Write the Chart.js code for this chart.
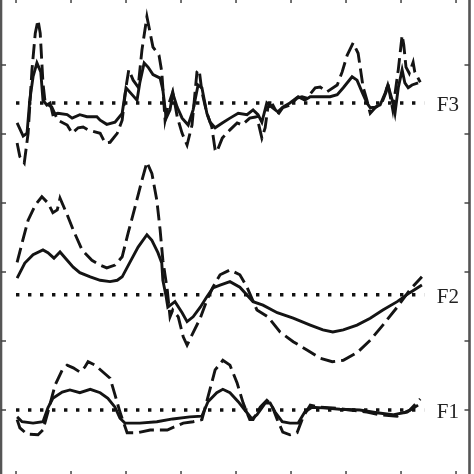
<!DOCTYPE html>
<html>
<head>
<meta charset="utf-8">
<script src="https://cdn.jsdelivr.net/npm/chart.js"></script>
<style>
  body { margin: 0; background: #fff; }
  #wrap { width: 474px; height: 474px; }
</style>
</head>
<body>
<div id="wrap"><canvas id="formantChart" width="474" height="474"></canvas></div>
<script>
// tick positions (unlabelled in the figure)
const xTicks = [0, 1, 2, 3, 4, 5, 6, 7, 8];
const yTicks = [0, 1, 2, 3, 4, 5];

// formant labels and the level of their dotted reference lines
const formantNames = ["F1", "F2", "F3"];
const baselines = [0, 1.67, 4.45];
const baselineEnd = 7.42;

// F3
const f3Solid = [
  [0.02, 4.16], [0.13, 3.97], [0.20, 4.01], [0.25, 4.49], [0.31, 4.83], [0.38, 5.03], [0.45, 4.90],
  [0.49, 4.49], [0.56, 4.42], [0.62, 4.45], [0.67, 4.28], [0.76, 4.30], [0.93, 4.28], [1.02, 4.23],
  [1.16, 4.28], [1.29, 4.25], [1.47, 4.25], [1.53, 4.20], [1.65, 4.14], [1.80, 4.17], [1.93, 4.30],
  [2.00, 4.67], [2.11, 4.57], [2.20, 4.49], [2.25, 4.74], [2.33, 5.03], [2.40, 4.97], [2.49, 4.86],
  [2.62, 4.81], [2.67, 4.64], [2.73, 4.23], [2.80, 4.35], [2.85, 4.59], [2.93, 4.39], [3.02, 4.23],
  [3.13, 4.13], [3.22, 4.35], [3.31, 4.71], [3.38, 4.67], [3.47, 4.30], [3.53, 4.17], [3.62, 4.09],
  [3.75, 4.16], [3.89, 4.23], [4.04, 4.30], [4.20, 4.28], [4.31, 4.35], [4.40, 4.28], [4.47, 4.17],
  [4.56, 4.45], [4.65, 4.39], [4.76, 4.32], [4.85, 4.39], [4.98, 4.45], [5.13, 4.54], [5.25, 4.49],
  [5.35, 4.54], [5.53, 4.54], [5.71, 4.54], [5.84, 4.57], [5.95, 4.67], [6.11, 4.83], [6.20, 4.78],
  [6.29, 4.61], [6.38, 4.45], [6.44, 4.38], [6.53, 4.39], [6.62, 4.42], [6.71, 4.59], [6.76, 4.71],
  [6.84, 4.49], [6.89, 4.30], [6.95, 4.67], [7.02, 4.93], [7.07, 4.74], [7.13, 4.67], [7.20, 4.71],
  [7.31, 4.74]
];
const f3Dashed = [
  [0.02, 3.87], [0.07, 3.67], [0.15, 3.58], [0.22, 4.01], [0.29, 4.93], [0.35, 5.46], [0.40, 5.65],
  [0.44, 5.46], [0.49, 4.74], [0.53, 4.45], [0.65, 4.39], [0.76, 4.20], [0.93, 4.13], [1.02, 4.01],
  [1.13, 4.09], [1.22, 4.10], [1.31, 4.06], [1.53, 4.01], [1.62, 3.87], [1.71, 3.88], [1.84, 4.01],
  [1.93, 4.20], [2.00, 4.68], [2.05, 4.93], [2.13, 4.78], [2.22, 4.68], [2.29, 5.22], [2.38, 5.70],
  [2.44, 5.46], [2.49, 5.26], [2.60, 5.14], [2.65, 4.90], [2.71, 4.20], [2.76, 4.39], [2.85, 4.61],
  [2.93, 4.25], [3.02, 4.01], [3.11, 3.84], [3.20, 4.13], [3.29, 4.90], [3.33, 4.93], [3.38, 4.61],
  [3.47, 4.30], [3.56, 4.10], [3.62, 3.77], [3.65, 3.74], [3.75, 3.94], [3.89, 4.06], [4.02, 4.16],
  [4.11, 4.13], [4.25, 4.23], [4.38, 4.25], [4.47, 3.94], [4.53, 4.09], [4.58, 4.39], [4.67, 4.42],
  [4.76, 4.28], [4.85, 4.38], [4.98, 4.42], [5.11, 4.52], [5.20, 4.54], [5.29, 4.52], [5.44, 4.67],
  [5.53, 4.68], [5.65, 4.61], [5.84, 4.71], [5.93, 4.90], [6.02, 5.14], [6.13, 5.32], [6.22, 5.17],
  [6.27, 4.90], [6.31, 4.68], [6.38, 4.49], [6.44, 4.30], [6.53, 4.38], [6.65, 4.45], [6.73, 4.61],
  [6.76, 4.74], [6.85, 4.35], [6.95, 4.93], [7.02, 5.43], [7.05, 5.29], [7.09, 4.97], [7.15, 4.88],
  [7.22, 5.04], [7.25, 4.90], [7.35, 4.75]
];

// F2
const f2Solid = [
  [0.02, 1.91], [0.16, 2.13], [0.31, 2.25], [0.49, 2.32], [0.58, 2.28], [0.69, 2.20], [0.80, 2.29],
  [0.93, 2.17], [1.04, 2.07], [1.16, 1.99], [1.35, 1.93], [1.53, 1.88], [1.71, 1.86], [1.84, 1.88],
  [1.93, 1.93], [2.07, 2.14], [2.22, 2.36], [2.38, 2.54], [2.47, 2.46], [2.58, 2.28], [2.65, 2.13],
  [2.67, 1.88], [2.73, 1.64], [2.76, 1.49], [2.89, 1.57], [3.02, 1.41], [3.11, 1.28], [3.22, 1.35],
  [3.35, 1.49], [3.47, 1.64], [3.58, 1.77], [3.71, 1.81], [3.89, 1.86], [4.07, 1.78], [4.31, 1.57],
  [4.49, 1.52], [4.75, 1.41], [5.04, 1.33], [5.35, 1.23], [5.58, 1.16], [5.76, 1.13], [5.95, 1.16],
  [6.20, 1.23], [6.44, 1.33], [6.67, 1.45], [6.93, 1.57], [7.16, 1.70], [7.38, 1.81]
];
const f2Dashed = [
  [0.02, 2.14], [0.11, 2.42], [0.22, 2.75], [0.35, 2.97], [0.47, 3.09], [0.58, 3.00], [0.67, 2.86],
  [0.75, 2.90], [0.80, 3.07], [0.93, 2.83], [1.04, 2.61], [1.20, 2.32], [1.38, 2.17], [1.53, 2.10],
  [1.65, 2.06], [1.80, 2.10], [1.93, 2.22], [2.04, 2.57], [2.16, 2.93], [2.29, 3.33], [2.38, 3.59],
  [2.47, 3.43], [2.56, 3.04], [2.62, 2.61], [2.67, 2.17], [2.75, 1.74], [2.80, 1.35], [2.85, 1.45],
  [2.95, 1.35], [3.04, 1.06], [3.11, 0.94], [3.22, 1.12], [3.35, 1.33], [3.47, 1.59], [3.58, 1.78],
  [3.71, 1.96], [3.89, 2.03], [4.07, 1.96], [4.20, 1.78], [4.38, 1.45], [4.58, 1.35], [4.80, 1.13],
  [5.04, 0.99], [5.29, 0.87], [5.53, 0.75], [5.75, 0.70], [5.95, 0.72], [6.20, 0.83], [6.44, 1.01],
  [6.67, 1.23], [6.93, 1.49], [7.16, 1.74], [7.38, 1.93]
];

// F1
const f1Solid = [
  [0.02, -0.10], [0.11, -0.17], [0.31, -0.19], [0.49, -0.17], [0.58, 0.03], [0.67, 0.17], [0.84, 0.26],
  [0.98, 0.29], [1.16, 0.25], [1.35, 0.30], [1.53, 0.25], [1.67, 0.17], [1.80, 0.04], [1.89, -0.12],
  [1.98, -0.19], [2.25, -0.19], [2.56, -0.17], [2.85, -0.13], [3.16, -0.10], [3.38, -0.09], [3.49, 0.12],
  [3.65, 0.25], [3.76, 0.30], [3.89, 0.25], [4.04, 0.12], [4.16, 0.00], [4.29, -0.13], [4.38, -0.07],
  [4.53, 0.10], [4.62, 0.10], [4.71, -0.03], [4.84, -0.17], [4.98, -0.19], [5.13, -0.19], [5.25, -0.03],
  [5.38, 0.04], [5.58, 0.03], [5.89, 0.01], [6.25, 0.00], [6.56, -0.04], [6.85, -0.07], [7.11, -0.03],
  [7.31, 0.07]
];
const f1Dashed = [
  [0.02, -0.14], [0.07, -0.26], [0.20, -0.35], [0.40, -0.36], [0.49, -0.29], [0.58, -0.03], [0.71, 0.36],
  [0.84, 0.58], [0.93, 0.65], [1.04, 0.61], [1.16, 0.55], [1.25, 0.62], [1.31, 0.70], [1.44, 0.65],
  [1.58, 0.55], [1.71, 0.46], [1.80, 0.22], [1.89, -0.03], [2.02, -0.33], [2.20, -0.33], [2.44, -0.29],
  [2.75, -0.29], [3.04, -0.19], [3.22, -0.17], [3.38, -0.14], [3.49, 0.19], [3.62, 0.58], [3.76, 0.72],
  [3.89, 0.65], [4.02, 0.39], [4.13, 0.10], [4.25, -0.14], [4.31, -0.14], [4.44, 0.04], [4.56, 0.14],
  [4.65, 0.07], [4.75, -0.14], [4.85, -0.32], [4.98, -0.36], [5.11, -0.33], [5.22, -0.10], [5.35, 0.07],
  [5.53, 0.04], [5.76, 0.03], [6.07, 0.00], [6.38, -0.03], [6.62, -0.07], [6.93, -0.09], [7.16, 0.00],
  [7.35, 0.16]
];

const lineColor = "#141414";
const toPoints = (pairs) => pairs.map(([x, y]) => ({ x: x, y: y }));

function curve(pairs, dashed) {
  return {
    data: toPoints(pairs),
    borderColor: lineColor,
    borderWidth: 2.9,
    borderDash: dashed ? [15, 6] : [],
    pointRadius: 0,
    tension: 0,
    fill: false,
  };
}

const datasets = [];
baselines.forEach(function (b) {
  datasets.push({
    data: [{ x: 0, y: b }, { x: baselineEnd, y: b }],
    borderColor: "#111",
    borderWidth: 3.4,
    borderDash: [3.4, 8.6],
    borderCapStyle: "butt",
    pointRadius: 0,
  });
});
datasets.push(curve(f1Solid, false), curve(f1Dashed, true));
datasets.push(curve(f2Solid, false), curve(f2Dashed, true));
datasets.push(curve(f3Solid, false), curve(f3Dashed, true));

// frame with inward tick marks and the formant labels
const framePlugin = {
  id: "frame",
  afterDatasetsDraw(chart) {
    const c = chart.ctx;
    const a = chart.chartArea;
    const xs = chart.scales.x;
    const ys = chart.scales.y;
    c.save();
    c.strokeStyle = "#555";
    c.lineWidth = 2.6;
    c.beginPath();
    c.moveTo(a.left, a.top);
    c.lineTo(a.left, a.bottom);
    c.moveTo(a.right, a.top);
    c.lineTo(a.right, a.bottom);
    c.stroke();

    c.lineWidth = 1.5;
    c.strokeStyle = "#444";
    c.beginPath();
    xTicks.forEach(function (t) {
      const px = xs.getPixelForValue(t);
      c.moveTo(px, a.top);
      c.lineTo(px, a.top + 3);
      c.moveTo(px, a.bottom);
      c.lineTo(px, a.bottom - 3);
    });
    yTicks.forEach(function (t) {
      const py = ys.getPixelForValue(t);
      c.moveTo(a.left, py);
      c.lineTo(a.left + 5, py);
      c.moveTo(a.right, py);
      c.lineTo(a.right - 5, py);
    });
    c.stroke();

    c.fillStyle = "#222";
    c.font = '21px "Liberation Serif", "DejaVu Serif", serif';
    c.textBaseline = "alphabetic";
    formantNames.forEach(function (name, i) {
      c.fillText(name, xs.getPixelForValue(7.65), ys.getPixelForValue(baselines[i]) + 8);
    });
    c.restore();
  },
};

new Chart(document.getElementById("formantChart").getContext("2d"), {
  type: "line",
  data: { datasets: datasets },
  options: {
    responsive: false,
    animation: false,
    layout: { padding: { left: 1, right: 4.5, top: 0, bottom: 0 } },
    plugins: { legend: { display: false }, tooltip: { enabled: false } },
    scales: {
      x: { type: "linear", min: -0.273, max: 8.245, display: false },
      y: { type: "linear", min: -0.928, max: 5.942, display: false },
    },
  },
  plugins: [framePlugin],
});
</script>
</body>
</html>
